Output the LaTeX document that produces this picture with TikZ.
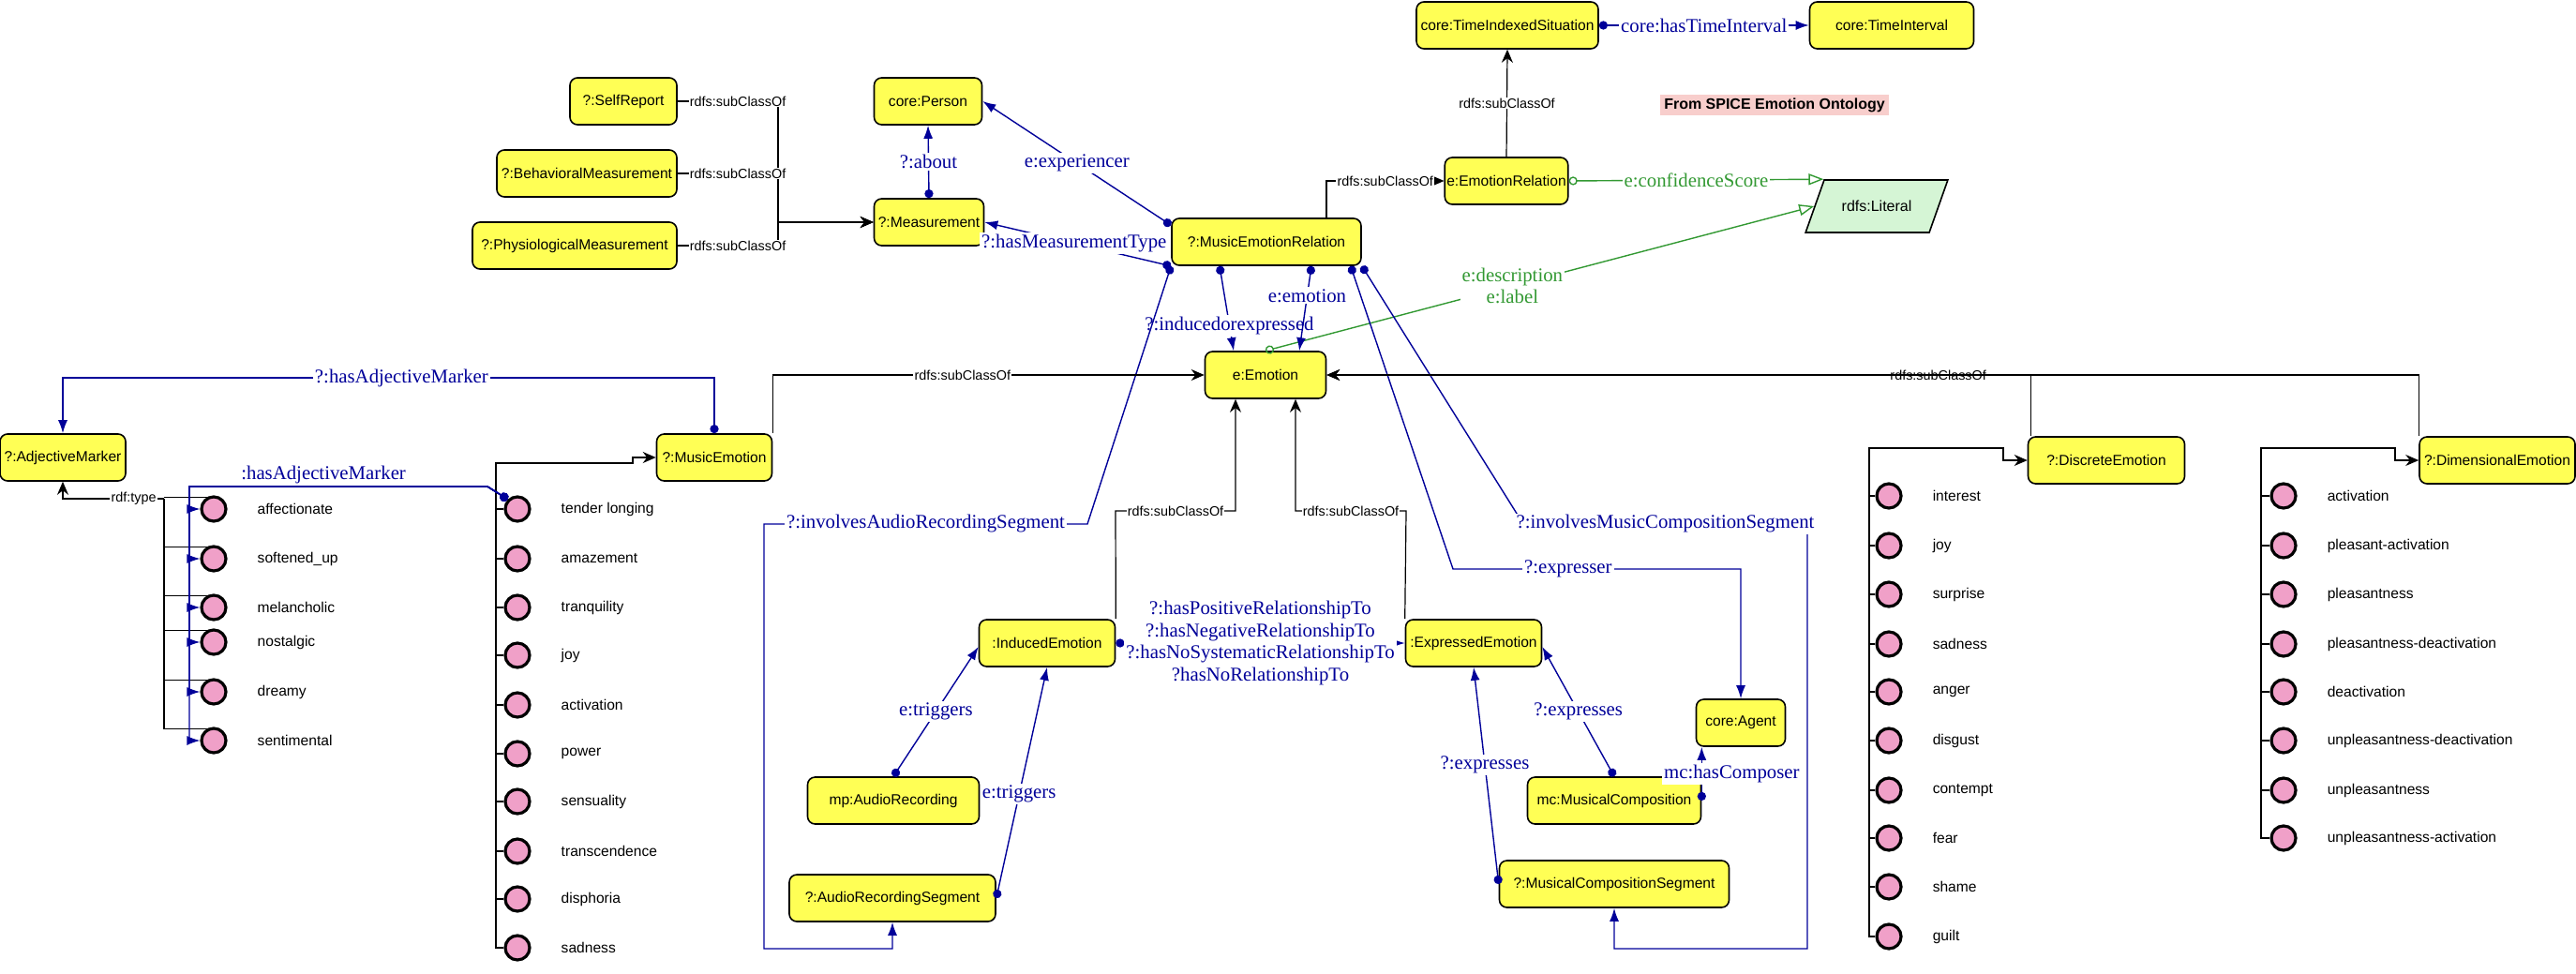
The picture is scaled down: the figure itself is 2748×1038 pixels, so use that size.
\documentclass[tikz,border=0pt]{standalone}
\usepackage{fontspec}
\setmainfont{Liberation Serif}
\newfontfamily\sansf{Liberation Sans}
\usetikzlibrary{arrows.meta,shapes.geometric,calc}
\definecolor{ylw}{HTML}{FFFF55}
\definecolor{rblue}{HTML}{000099}
\definecolor{rgreen}{HTML}{339933}
\definecolor{litfill}{HTML}{D5F5D5}
\definecolor{pinkc}{HTML}{F0A0C8}
\definecolor{notefill}{HTML}{F8CECC}
\tikzset{
  cls/.style={draw, rounded corners=2pt, fill=ylw, line width=0.4pt, inner sep=0.5pt,
    minimum height=12.5pt, font=\sansf\fontsize{3.9}{4.7}\selectfont},
  w/.style={minimum width=#1*0.25pt},
  inst/.style={circle, draw, fill=pinkc, line width=0.8pt, minimum size=6.5pt, inner sep=0pt},
  ilbl/.style={font=\sansf\fontsize{3.9}{4.5}\selectfont, label distance=4.5pt},
  sub/.style={draw=black, line width=0.3pt, -{Stealth[length=3.5pt,width=3pt]}},
  blk/.style={draw=black, line width=0.3pt},
  sublbl/.style={font=\sansf\fontsize{3.6}{4.2}\selectfont, fill=white, inner sep=0.3pt},
  rel/.style={draw=rblue, line width=0.35pt, {Circle[length=2.3pt]}-{Latex[length=3.5pt,width=2.5pt]}},
  rl/.style={font=\fontsize{5.2}{5.9}\selectfont, text=rblue, fill=white, inner sep=0.5pt, align=center},
  grn/.style={draw=rgreen, line width=0.35pt, {Circle[open,length=2.3pt]}-{Triangle[open,length=4pt,width=3pt]}},
  gl/.style={font=\fontsize{5.2}{5.9}\selectfont, text=rgreen, fill=white, inner sep=0.5pt, align=center},
}
\begin{document}
\begin{tikzpicture}[x=0.25pt,y=-0.25pt]
\useasboundingbox (0,0) rectangle (2748,1038);

% classes
\node[cls,w=114] (SelfReport) at (665,108) {?:SelfReport};
\node[cls,w=192] (Behav) at (626,185) {?:BehavioralMeasurement};
\node[cls,w=218] (Physio) at (613,262) {?:PhysiologicalMeasurement};
\node[cls,w=115] (Person) at (990,108) {core:Person};
\node[cls,w=117] (Measurement) at (991,237) {?:Measurement};
\node[cls,w=202] (MER) at (1351,258) {?:MusicEmotionRelation};
\node[cls,w=129] (EmoRel) at (1607,193) {e:EmotionRelation};
\node[cls,w=194] (TIS) at (1608,27) {core:TimeIndexedSituation};
\node[cls,w=175] (TI) at (2018,27) {core:TimeInterval};
\node[draw, fill=litfill, line width=0.4pt, trapezium, trapezium left angle=65,
  trapezium right angle=115, trapezium stretches=true, minimum width=38pt,
  minimum height=14pt, font=\sansf\fontsize{4}{4.8}\selectfont] (Lit) at (2002,220) {rdfs:Literal};
\node[font=\sansf\bfseries\fontsize{4}{4.8}\selectfont, fill=notefill, inner sep=1pt] (note) at (1893,112) {From SPICE Emotion Ontology};
\node[cls,w=129] (Emotion) at (1350,400) {e:Emotion};
\node[cls,w=123] (MusicEmotion) at (762,488) {?:MusicEmotion};
\node[cls,w=134] (AdjMarker) at (67,488) {?:AdjectiveMarker};
\node[cls,w=167] (Discrete) at (2247,491) {?:DiscreteEmotion};
\node[cls,w=166] (Dimensional) at (2664,491) {?:DimensionalEmotion};
\node[cls,w=145] (Induced) at (1117,686) {:InducedEmotion};
\node[cls,w=145] (Expressed) at (1572,686) {:ExpressedEmotion};
\node[cls,w=183] (AudioRec) at (953,854) {mp:AudioRecording};
\node[cls,w=220] (ARS) at (952,958) {?:AudioRecordingSegment};
\node[cls,w=95] (Agent) at (1857,771) {core:Agent};
\node[cls,w=185] (MC) at (1722,854) {mc:MusicalComposition};
\node[cls,w=245] (MCS) at (1722,943) {?:MusicalCompositionSegment};

% measurement subclasses
\coordinate (jm) at (830,237);
\draw[sub] (SelfReport.east) -- node[sublbl,pos=0.6]{rdfs:subClassOf} (SelfReport.east -| jm) |- (Measurement.west);
\draw[sub] (Behav.east) -- node[sublbl,pos=0.6]{rdfs:subClassOf} (Behav.east -| jm) |- (Measurement.west);
\draw[sub] (Physio.east) -- node[sublbl,pos=0.6]{rdfs:subClassOf} (Physio.east -| jm) |- (Measurement.west);

\draw[rel] (Measurement.north) -- node[rl]{?:about} (Person.south);
\draw[rel] ([yshift=-2pt]MER.north west) -- node[rl]{e:experiencer} (Person.east);
\draw[rel] (MER.south west) -- node[rl,pos=0.52]{?:hasMeasurementType} (Measurement.east);

% emotion relation
\draw[sub] ([xshift=16pt]MER.north) |- node[sublbl,pos=0.75]{rdfs:subClassOf} (EmoRel.west);
\draw[sub] (EmoRel.north) -- node[sublbl]{rdfs:subClassOf} (TIS.south);
\draw[rel] (TIS.east) -- node[rl]{core:hasTimeInterval} (TI.west);
\draw[grn] (EmoRel.east) -- node[gl]{e:confidenceScore} (Lit.top left corner);
\draw[grn] (Emotion.north) -- node[gl,pos=0.45]{e:description\\e:label} (Lit.west);

\draw[rel] ([xshift=-12.5pt]MER.south) -- node[rl,pos=0.7]{?:inducedorexpressed} ([xshift=-8.5pt]Emotion.north);
\draw[rel] ([xshift=12pt]MER.south) -- node[rl,pos=0.35]{e:emotion} ([xshift=9pt]Emotion.north);

\draw[rel] (MER.south west) -- (1160,559) -- node[rl]{?:involvesAudioRecordingSegment} (815,559)
  -- (815,1012) -| (ARS.south);
\draw[rel] (MER.south east) -- (1625,559) -- node[rl]{?:involvesMusicCompositionSegment} (1928,559)
  -- (1928,1012) -| (MCS.south);
\draw[rel] ([xshift=-3pt]MER.south east) -- (1550,607) -| node[rl,pos=0.2]{?:expresser} (Agent.north);

% induced / expressed
\draw[sub] (Induced.north east) -- (1190,545) -- node[sublbl]{rdfs:subClassOf} (1318,545) -- ([xshift=-8pt]Emotion.south);
\draw[sub] (Expressed.north west) -- (1500,545) -- node[sublbl]{rdfs:subClassOf} (1382,545) -- ([xshift=8pt]Emotion.south);
\draw[rel] (Induced.east) -- node[rl]{?:hasPositiveRelationshipTo\\?:hasNegativeRelationshipTo\\?:hasNoSystematicRelationshipTo\\?hasNoRelationshipTo} (Expressed.west);
\draw[rel] (AudioRec.north) -- node[rl]{e:triggers} ([yshift=-1pt]Induced.west);
\draw[rel] (ARS.east) -- node[rl,pos=0.45]{e:triggers} (Induced.south);
\draw[rel] (MC.north) -- node[rl]{?:expresses} ([yshift=-1pt]Expressed.east);
\draw[rel] (MC.east) -- node[rl,xshift=8pt]{mc:hasComposer} (MC.east |- Agent.south);
\draw[rel] (MCS.west) -- node[rl,pos=0.55]{?:expresses} (Expressed.south);

% emotion subclasses
\draw[sub] (MusicEmotion.north east) |- node[sublbl,pos=0.72]{rdfs:subClassOf} (Emotion.west);
\draw[rel] (MusicEmotion.north) -- (762,403) -| node[rl,pos=0.24]{?:hasAdjectiveMarker} (AdjMarker.north);
\draw[sub] (Dimensional.north west) |- node[sublbl,pos=0.72]{rdfs:subClassOf} (Emotion.east);
\draw[sub] ([xshift=1pt]Discrete.north west) |- (Emotion.east);

% music emotion instances
\foreach \y/\t [count=\i] in {543/tender longing,596/amazement,648/tranquility,699/joy,752/activation,804/power,855/sensuality,908/transcendence,959/disphoria,1011/sadness}
  \node[inst,label={[ilbl]right:\t}] (me\i) at (552,\y) {};
\coordinate (meT) at (529,494);
\foreach \i in {1,...,9} \draw[blk] (me\i.west) -- (me\i.west -| meT);
\draw[sub] (me10.west) -| (meT) -- (675,494) |- (MusicEmotion.west);

% adjective instances
\foreach \y/\t [count=\i] in {543/affectionate,596/softened\_up,648/melancholic,685/nostalgic,738/dreamy,790/sentimental}
  \node[inst,label={[ilbl]right:\t}] (adj\i) at (228,\y) {};
\coordinate (adjT) at (175,532);
\foreach \i in {1,...,5} \draw[blk] (adj\i.120) -- (adj\i.120 -| adjT);
\draw[blk] (adj6.120) -| (adjT);
\draw[sub] (adjT) -| node[sublbl,pos=0.15]{rdf:type} (AdjMarker.south);
\draw[rel] (me1.135) -- (520,519) -- node[rl,anchor=south,fill=none,pos=0.55]{:hasAdjectiveMarker} (202,519) |- (adj1.west);
\foreach \i in {2,...,6} \draw[rel] (me1.135) -- (520,519) -- (202,519) |- (adj\i.west);

% discrete instances
\foreach \y/\t [count=\i] in {529/interest,582/joy,634/surprise,687/sadness,738/anger,790/disgust,843/contempt,894/fear,946/shame,999/guilt}
  \node[inst,label={[ilbl]right:\t}] (ds\i) at (2015,\y) {};
\coordinate (dsT) at (1994,478);
\foreach \i in {1,...,9} \draw[blk] (ds\i.west) -- (ds\i.west -| dsT);
\draw[sub] (ds10.west) -| (dsT) -- (2137,478) |- (Discrete.west);

% dimensional instances
\foreach \y/\t [count=\i] in {529/activation,582/pleasant-activation,634/pleasantness,687/pleasantness-deactivation,738/deactivation,790/unpleasantness-deactivation,843/unpleasantness,894/unpleasantness-activation}
  \node[inst,label={[ilbl]right:\t}] (dm\i) at (2436,\y) {};
\coordinate (dmT) at (2412,478);
\foreach \i in {1,...,7} \draw[blk] (dm\i.west) -- (dm\i.west -| dmT);
\draw[sub] (dm8.west) -| (dmT) -- (2555,478) |- (Dimensional.west);
\end{tikzpicture}
\end{document}
